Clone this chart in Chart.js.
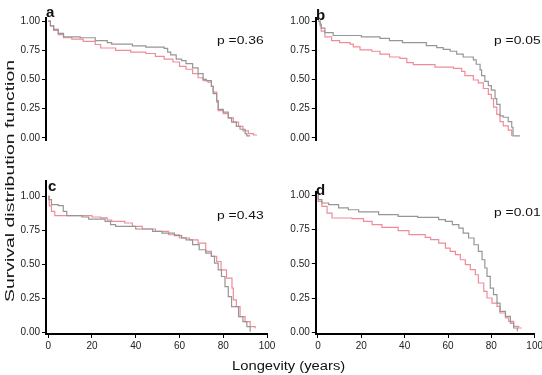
<!DOCTYPE html>
<html>
<head>
<meta charset="utf-8">
<script src="https://cdn.jsdelivr.net/npm/chart.js@4/dist/chart.umd.min.js"></script>
<style>
  body { margin: 0; background: #fff; overflow: hidden; width: 542px; height: 375px; position: relative; }
  .panel { position: absolute; left: 0; top: 0; width: 600px; height: 375px; }
  .txt { position: absolute; font-family: 'Liberation Sans', Arial, sans-serif; color: #111; white-space: nowrap; transform-origin: 0 0; }
  .lbl { font-size: 15px; line-height: 15px; font-weight: bold; }
  .pv { font-size: 11px; line-height: 11px; transform: scaleX(1.26); }
</style>
</head>
<body>
<div class="panel"><canvas id="chartA"></canvas></div>
<div class="panel"><canvas id="chartB"></canvas></div>
<div class="panel"><canvas id="chartC"></canvas></div>
<div class="panel"><canvas id="chartD"></canvas></div>

<div class="txt lbl" style="left:46px;top:4px">a</div>
<div class="txt lbl" style="left:316px;top:7px">b</div>
<div class="txt lbl" style="left:48px;top:178px">c</div>
<div class="txt lbl" style="left:316px;top:182px">d</div>

<div class="txt pv" style="left:217px;top:35px">p =0.36</div>
<div class="txt pv" style="left:494px;top:35px">p =0.05</div>
<div class="txt pv" style="left:217px;top:210px">p =0.43</div>
<div class="txt pv" style="left:494px;top:207px">p =0.01</div>

<div class="txt" style="left:232px;top:360px;font-size:12px;line-height:12px;transform:scaleX(1.23)">Longevity (years)</div>
<div class="txt" style="left:10px;top:181px;font-size:12px;line-height:12px;transform:translate(-50%,-50%) rotate(-90deg) scaleX(1.62);transform-origin:50% 50%">Survival distribution function</div>

<script>
// survival curves, [years, survival]
const grayA = [[0,1],[1,0.96],[2.5,0.93],[4.6,0.895],[7,0.865],[14.6,0.858],[21.5,0.833],[27,0.816],[29,0.804],[38.5,0.789],[44.6,0.777],[53,0.767],[54.6,0.735],[56,0.711],[58.5,0.674],[61,0.662],[63,0.637],[66,0.60],[68.5,0.551],[70.8,0.502],[72.3,0.49],[74.6,0.441],[75.4,0.38],[77,0.319],[77.7,0.245],[80,0.221],[82.3,0.172],[83.8,0.135],[86,0.098],[87.7,0.074],[90,0.037],[90.8,0.017],[92.3,0.017]];
const pinkA = [[0,1],[1,0.96],[2.5,0.92],[4.6,0.885],[7,0.858],[10.8,0.846],[16,0.826],[21.5,0.80],[24,0.77],[30.8,0.75],[37.7,0.735],[44.6,0.723],[49,0.699],[53,0.674],[57,0.65],[60,0.613],[63,0.588],[66,0.551],[68.5,0.515],[70.8,0.49],[73,0.478],[74.6,0.441],[75.4,0.392],[77,0.306],[77.7,0.233],[80,0.208],[82.3,0.172],[84.6,0.135],[87,0.098],[89,0.061],[91.5,0.037],[93.8,0.025],[95.4,0.025]];

const grayB = [[0,1],[1,0.975],[1.5,0.94],[3.2,0.902],[7,0.877],[20,0.865],[28.6,0.853],[33,0.833],[39,0.816],[50,0.791],[54.8,0.774],[57.8,0.759],[61,0.742],[64,0.717],[67,0.693],[71.7,0.668],[73,0.631],[74.8,0.582],[75.5,0.533],[77,0.484],[78.6,0.447],[80,0.41],[81.7,0.337],[82.5,0.287],[84,0.189],[85.5,0.177],[87.8,0.14],[89.4,0.091],[90,0.017],[93.2,0.017]];
const pinkB = [[0,1],[1,0.96],[1.5,0.914],[3.2,0.865],[6.3,0.833],[10,0.816],[14.8,0.803],[16.3,0.779],[19.4,0.754],[24.8,0.742],[28.6,0.717],[33,0.693],[37.8,0.681],[41,0.644],[44,0.627],[54,0.607],[62.5,0.595],[66.3,0.57],[67.8,0.533],[71.7,0.496],[74,0.472],[76.3,0.423],[78.6,0.373],[80,0.337],[81,0.263],[82.5,0.201],[84,0.14],[85.5,0.103],[87.8,0.066],[89.4,0.017]];

const grayC = [[0,1],[0.3,0.975],[1.5,0.939],[4.6,0.931],[6.9,0.89],[8.5,0.858],[15.4,0.848],[18.5,0.833],[26,0.816],[28.5,0.792],[30.8,0.779],[40,0.76],[47.7,0.743],[52,0.73],[57.7,0.711],[61,0.695],[63,0.681],[66,0.645],[69,0.608],[72,0.583],[74.6,0.559],[76,0.51],[77.7,0.461],[79.2,0.412],[80.8,0.338],[82.3,0.265],[83.8,0.191],[87,0.118],[89,0.081],[90.8,0.044],[92.3,0.007]];
const pinkC = [[0,1],[0.5,0.93],[1.5,0.89],[3,0.858],[20,0.848],[24,0.841],[27,0.826],[29,0.816],[35,0.804],[38.5,0.779],[43,0.76],[49,0.743],[55,0.718],[60,0.694],[64.6,0.681],[68.5,0.657],[72,0.596],[74.6,0.559],[77,0.522],[79,0.461],[81.5,0.40],[84,0.326],[84.6,0.24],[86,0.191],[87.7,0.118],[90,0.081],[92.3,0.044],[94.6,0.032]];

const grayD = [[0,1],[0.1,0.966],[1.8,0.942],[4.9,0.93],[9.5,0.906],[14,0.893],[18.8,0.877],[28,0.857],[37,0.845],[46,0.838],[55.7,0.821],[58.8,0.809],[62,0.785],[65,0.76],[67,0.724],[69.5,0.688],[72,0.639],[74,0.591],[75.7,0.53],[77,0.47],[78,0.409],[79.5,0.324],[81,0.276],[82.6,0.215],[84,0.155],[86.5,0.119],[88.8,0.07],[90.3,0.034],[92,0.01]];
const pinkD = [[0,1],[0.1,0.954],[1.8,0.918],[4.2,0.869],[6.5,0.833],[15.7,0.828],[21,0.809],[25,0.785],[29.5,0.765],[37,0.741],[42,0.712],[49.5,0.692],[52,0.676],[55.7,0.651],[58.8,0.615],[61,0.591],[63.4,0.567],[65.7,0.53],[68,0.494],[70.3,0.458],[72.6,0.421],[74,0.361],[76.5,0.3],[78,0.252],[80.3,0.215],[82.6,0.191],[84,0.143],[86.5,0.107],[88,0.082],[90.3,0.046],[92.6,0.034],[94,0.034]];

const xTicks = [0, 20, 40, 60, 80, 100];
const yTicks = [0, 0.25, 0.5, 0.75, 1];

const grayColor = 'rgb(150,150,150)';
const pinkColor = 'rgb(240,140,152)';

Chart.defaults.font.family = "'Liberation Sans', Arial, sans-serif";
Chart.defaults.font.size = 10;
Chart.defaults.color = '#222';

const YW = 30, XH = 20;

function panel(id, gray, pink, box, yMin, yMax, showX) {
  const ctx = document.getElementById(id).getContext('2d');
  new Chart(ctx, {
    type: 'line',
    data: {
      datasets: [
        { data: gray, borderColor: grayColor, borderWidth: 1.2, stepped: 'before', pointRadius: 0, fill: false },
        { data: pink, borderColor: pinkColor, borderWidth: 1.2, stepped: 'before', pointRadius: 0, fill: false }
      ]
    },
    options: {
      responsive: true,
      maintainAspectRatio: false,
      animation: false,
      devicePixelRatio: 1,
      layout: {
        padding: {
          left: box.left - YW,
          top: box.top,
          right: 600 - box.right,
          bottom: 375 - box.bottom - (showX ? XH : 0)
        }
      },
      plugins: { legend: { display: false }, tooltip: { enabled: false } },
      scales: {
        x: {
          type: 'linear',
          display: showX,
          min: -1,
          max: 100,
          afterBuildTicks: function(axis) { axis.ticks = xTicks.map(v => ({ value: v })); },
          afterFit: function(axis) { axis.height = XH; },
          grid: { drawOnChartArea: false, tickLength: 4, color: '#000' },
          border: { display: true, color: '#000', width: 2 },
          ticks: { padding: 2, maxRotation: 0 }
        },
        y: {
          min: yMin,
          max: yMax,
          afterBuildTicks: function(axis) { axis.ticks = yTicks.map(v => ({ value: v })); },
          afterFit: function(axis) { axis.width = YW; },
          grid: { drawOnChartArea: false, tickLength: 4, color: '#000' },
          border: { display: true, color: '#000', width: 2 },
          ticks: {
            padding: 2,
            callback: function(value) { return Number(value).toFixed(2); }
          }
        }
      }
    }
  });
}

panel('chartA', grayA, pinkA, { left: 46, right: 267, top: 18, bottom: 160 }, -0.018, 1.027, false);
panel('chartB', grayB, pinkB, { left: 315.8, right: 534.7, top: 18, bottom: 160 }, -0.018, 1.027, false);
panel('chartC', grayC, pinkC, { left: 46, right: 267, top: 181, bottom: 334 }, -0.0096, 1.112, true);
panel('chartD', grayD, pinkD, { left: 315.8, right: 534.7, top: 192, bottom: 334 }, -0.0094, 1.022, true);
</script>
</body>
</html>
